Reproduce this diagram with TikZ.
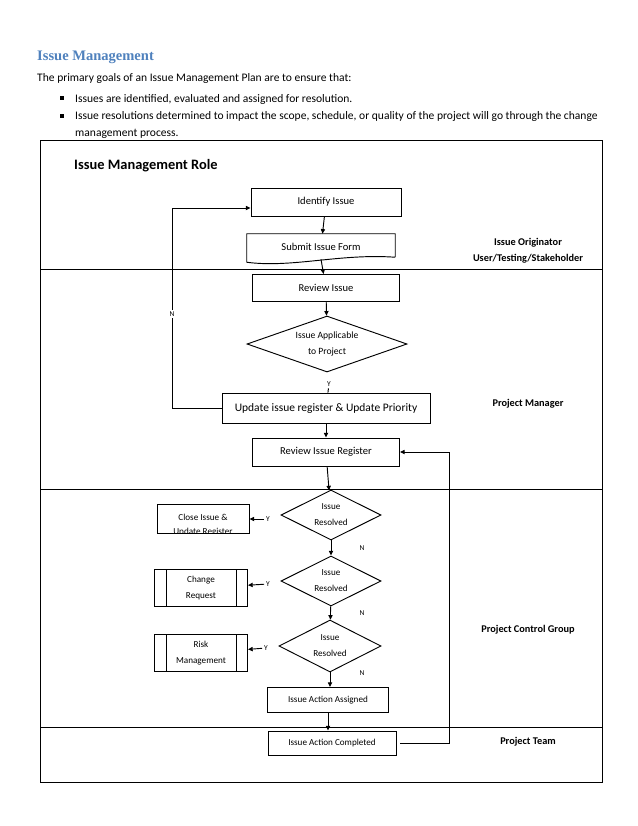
\documentclass[tikz,border=0pt]{standalone}
\usepackage{fontspec}
\setmainfont{Carlito}
\newfontfamily\headfont{Liberation Serif}
\usetikzlibrary{
    positioning,     % Relative positioning
    shapes.geometric,% Diamonds
    arrows.meta,     % Arrow tips
    calc             % Coordinate calculations
}
\definecolor{headblue}{RGB}{79,129,189}
\newcommand{\pxu}{0.03cm}
\newcommand{\bodyfont}{\fontsize{9.85}{14.5}\selectfont}
\newcommand{\boxfont}{\fontsize{9}{10}\selectfont}
\newcommand{\smallfont}{\fontsize{7.8}{13.5}\selectfont}
\newcommand{\lanefont}{\fontsize{8.8}{13.5}\selectfont\bfseries}

\tikzset{
    flowbox/.style 2 args={draw, thick, minimum width=#1*\pxu, minimum height=#2*\pxu, inner sep=1pt, font=\boxfont},
    smallbox/.style 2 args={flowbox={#1}{#2}, font=\smallfont, align=center},
    decision/.style n args={3}{draw, thick, diamond, aspect=#3, minimum width=#1*\pxu, minimum height=#2*\pxu, inner sep=0pt, font=\smallfont, align=center},
    lanelabel/.style={font=\lanefont, align=center},
    yn/.style={font=\fontsize{6.4}{7}\selectfont, inner sep=1.5pt, fill=white},
    flow/.style={thick, -{Triangle[length=4pt,width=3.6pt]}},
    line/.style={thick}
}

\begin{document}
\begin{tikzpicture}[x=0.03cm, y=-0.03cm]
    \useasboundingbox (0,0) rectangle (638,826);

    % page text above the frame
    \node[anchor=west, inner sep=0pt, font=\headfont\bfseries\fontsize{12.4}{14}\selectfont, text=headblue] (title) at (37,57) {Issue Management};
    \node[anchor=west, inner sep=0pt, font=\bodyfont] (intro) at (37,78) {The primary goals of an Issue Management Plan are to ensure that:};
    \node[fill, inner sep=0pt, minimum size=3.2*\pxu] (bul1) at (62,98) {};
    \node[fill, inner sep=0pt, minimum size=3.2*\pxu] (bul2) at (62,116) {};
    \node[anchor=west, inner sep=0pt, font=\bodyfont] (goal1) at (75,99) {Issues are identified, evaluated and assigned for resolution.};
    \node[anchor=north west, inner sep=0pt, font=\bodyfont, align=left] (goal2) at (75,111) {Issue resolutions determined to impact the scope, schedule, or quality of the project will go through the change\\management process.};

    % frame and swim lanes
    \draw[line] (40,140) rectangle (602,782);
    \foreach \ly in {269,489,727}
        \draw[line] (40,\ly) -- (602,\ly);
    \node[anchor=west, inner sep=0pt, font=\bfseries\fontsize{12.3}{14}\selectfont] (role) at (74,166) {Issue Management Role};

    \node[lanelabel] (originator) at (528,251) {Issue Originator\\User/Testing/Stakeholder};
    \node[lanelabel] (manager) at (528,404) {Project Manager};
    \node[lanelabel] (control) at (528,630) {Project Control Group};
    \node[lanelabel] (team) at (528,742) {Project Team};

    % issue originator
    \node[flowbox={150}{28}] (identify) at (326,202) {Identify Issue};
    \node[minimum width=148*\pxu, minimum height=26*\pxu, inner sep=1pt, font=\boxfont] (submit) at (321,247) {Submit Issue Form};
    \draw[line] ($(submit.south east)+(0,-3)$) -- (submit.north east) -- (submit.north west) -- ($(submit.south west)+(0,2)$)
        .. controls ($(submit.south west)+(45,8)$) and ($(submit.south east)+(-55,-7)$) .. ($(submit.south east)+(0,-3)$);

    % project manager
    \node[flowbox={147}{27}] (review) at (326,288) {Review Issue};
    \node[decision={160}{56}{2.857}, font=\fontsize{8.2}{14}\selectfont] (applic) at (327,344) {Issue Applicable\\to Project};
    \node[yn] (yapp) at (329,384) {Y};
    \node[flowbox={208}{30}, font=\fontsize{9.8}{11}\selectfont] (update) at (326,408) {Update issue register \& Update Priority};
    \node[flowbox={147}{28}] (register) at (326,452) {Review Issue Register};

    % project control group
    \node[decision={100}{50}{2}] (res1) at (331,515) {Issue\\Resolved};
    \node[decision={100}{50}{2}] (res2) at (331,581) {Issue\\Resolved};
    \node[decision={102}{52}{1.96}] (res3) at (330,646) {Issue\\Resolved};
    \node[smallbox={92}{29}] (close) at (203,519) {};
    \begin{scope}
        \clip (close.south west) rectangle (close.north east);
        \node[font=\fontsize{7.8}{12.5}\selectfont, align=center] (closetxt) at ($(close.center)+(0,6)$) {Close Issue \&\\Update Register};
    \end{scope}
    \node[smallbox={93}{37}] (change) at (201,588) {Change\\Request};
    \node[smallbox={93}{37}] (risk) at (201,653) {Risk\\Management};
    \foreach \pp in {change,risk} {
        \draw[line] ($(\pp.north west)+(12,0)$) -- ($(\pp.south west)+(12,0)$);
        \draw[line] ($(\pp.north east)+(-12,0)$) -- ($(\pp.south east)+(-12,0)$);
    }
    \node[yn] (y1) at (268,519) {Y};
    \node[yn] (y2) at (268,584) {Y};
    \node[yn] (y3) at (266,648) {Y};
    \node[yn] (n1) at (362,548) {N};
    \node[yn] (n2) at (362,613) {N};
    \node[yn] (n3) at (362,673) {N};
    \node[smallbox={121}{25}] (assigned) at (328,700) {Issue Action Assigned};

    % project team
    \node[smallbox={128}{24}] (completed) at (332,743) {Issue Action Completed};

    % connectors
    \draw[flow] (identify) -- (submit);
    \draw[flow] (submit.south) ++(0,-1) -- (review);
    \draw[flow] (review) -- (applic);
    \draw[line] (yapp) -- (update);
    \draw[flow] (update) -- (register);
    \draw[flow] (register) -- (res1);
    \draw[flow] (res1) -- (res2);
    \draw[flow] (res2) -- (res3);
    \draw[flow] (res3.south) -- (res3.south |- assigned.north);
    \draw[flow] (assigned) -- (assigned |- completed.north);
    \draw[flow] (y1) -- (close);
    \draw[flow] (y2) -- (change);
    \draw[flow] (y3) -- (risk);

    % loops back
    \coordinate (nturn) at (172,208);
    \draw[flow] (update.west) -| (nturn) -- (nturn -| identify.west);
    \node[yn] (nloop) at (172,314) {N};
    \coordinate (backturn) at (449,743);
    \draw[flow] ($(completed.east)+(4,0)$) -- (backturn) |- (register.east);
\end{tikzpicture}
\end{document}
